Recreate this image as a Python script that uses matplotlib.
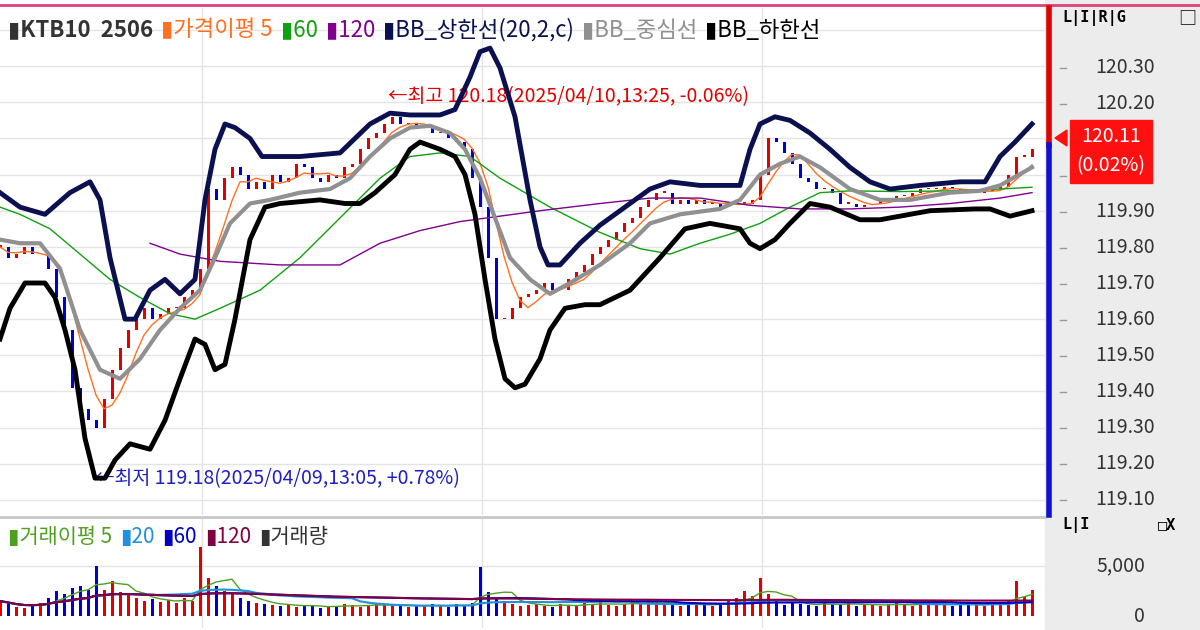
import matplotlib.pyplot as plt
import matplotlib.patches as mpatches
import pandas as pd

plt.rcParams['font.family'] = ['Noto Sans CJK KR', 'DejaVu Sans']

# close prices, one every 8 slots
close_x = list(range(0, 1040, 8))
closes = [119.80, 119.77, 119.78, 119.80, 119.78, 119.78, 119.74, 119.66, 119.57, 119.41,
          119.35, 119.32, 119.30, 119.38, 119.46, 119.52, 119.57, 119.60, 119.63, 119.60,
          119.615, 119.63, 119.63, 119.66, 119.68, 119.74, 119.96, 119.93, 119.99, 120.02,
          120.00, 119.96, 119.98, 119.96, 120.00, 119.98, 119.99, 120.03, 120.02, 119.99,
          119.98, 120.00, 119.99, 120.02, 120.03, 120.07, 120.10, 120.115, 120.14, 120.16,
          120.14, 120.14, 120.13, 120.13, 120.115, 120.115, 120.10, 120.09, 120.07, 119.99,
          119.91, 119.77, 119.60, 119.60, 119.63, 119.66, 119.67, 119.68, 119.70, 119.68,
          119.68, 119.71, 119.73, 119.75, 119.78, 119.80, 119.82, 119.84, 119.865, 119.88,
          119.91, 119.93, 119.95, 119.95, 119.92, 119.93, 119.92, 119.93, 119.92, 119.92,
          119.91, 119.92, 119.92, 119.92, 119.93, 120.00, 120.10, 120.09, 120.06, 120.03,
          119.99, 119.98, 119.96, 119.96, 119.95, 119.92, 119.92, 119.91, 119.915, 119.92,
          119.93, 119.935, 119.94, 119.94, 119.95, 119.96, 119.96, 119.96, 119.965, 119.96,
          119.955, 119.95, 119.95, 119.955, 119.96, 119.965, 120.00, 120.05, 120.05, 120.07]

volumes = [1500, 1200, 900, 800, 1000, 1300, 1800, 2500, 2200, 2800,
           3000, 2600, 5000, 2600, 3500, 2400, 2200, 1800, 1500, 1700,
           1400, 1600, 1300, 1800, 1500, 6900, 3800, 3000, 2500, 2200,
           1800, 1500, 1300, 1200, 1100, 1000, 1200, 900, 1000, 1100,
           800, 900, 1000, 1200, 1100, 900, 1000, 1300, 1200, 1100,
           1000, 900, 1000, 1100, 1200, 1000, 900, 1200, 1000, 1300,
           4900, 2400, 1800, 1500, 1200, 1000, 1100, 1200, 1000, 900,
           1200, 1100, 1000, 1300, 1200, 1400, 1100, 1000, 1200, 1500,
           1300, 1600, 1400, 1200, 1100, 1000, 1300, 1200, 1100, 1000,
           1200, 1500, 1800, 2500, 2000, 3800, 2200, 1500, 1100, 1300,
           1200, 1100, 1000, 1400, 1200, 1100, 1300, 1000, 1200, 1100,
           1000, 1200, 1300, 1100, 1000, 1200, 1400, 1300, 1100, 1000,
           1200, 1300, 1100, 1000, 1400, 1300, 1500, 3500, 1900, 2600]

bb_up_x = [0, 20, 45, 70, 90, 100, 110, 125, 135, 150, 165, 180, 195, 205, 215, 225, 235, 250, 262, 275,
           300, 340, 355, 370, 390, 410, 440, 455, 470, 480, 490, 500, 515, 530, 540, 548, 560, 580, 600, 630,
           650, 670, 700, 740, 750, 760, 775, 790, 810, 830, 850, 870, 890, 920, 960, 985, 1000, 1015, 1032]
bb_up = [119.95, 119.91, 119.89, 119.95, 119.98, 119.93, 119.77, 119.60, 119.60, 119.68, 119.71, 119.67, 119.71, 119.93, 120.07, 120.14, 120.13, 120.10, 120.05, 120.05,
         120.05, 120.06, 120.10, 120.14, 120.17, 120.165, 120.165, 120.18, 120.27, 120.34, 120.35, 120.295, 120.16, 119.93, 119.80, 119.75, 119.75, 119.81, 119.86, 119.92,
         119.96, 119.98, 119.97, 119.97, 120.07, 120.14, 120.16, 120.15, 120.115, 120.07, 120.02, 119.98, 119.96, 119.97, 119.98, 119.98, 120.05, 120.09, 120.14]

bb_lo_x = [0, 10, 25, 45, 55, 65, 75, 85, 95, 105, 115, 130, 150, 165, 180, 195, 205, 215, 225, 235, 250, 265, 280,
           320, 345, 360, 375, 395, 410, 420, 440, 455, 465, 475, 485, 495, 505, 515, 525, 540, 550, 565, 585, 600,
           630, 660, 685, 710, 740, 750, 760, 775, 790, 810, 830, 860, 880, 900, 930, 975, 990, 1010, 1032]
bb_lo = [119.545, 119.63, 119.70, 119.70, 119.66, 119.57, 119.46, 119.27, 119.16, 119.16, 119.21, 119.255, 119.24, 119.32, 119.435, 119.545, 119.53, 119.46, 119.475, 119.60, 119.82, 119.91, 119.92,
         119.93, 119.92, 119.92, 119.95, 120.00, 120.07, 120.09, 120.07, 120.05, 120.00, 119.89, 119.71, 119.545, 119.435, 119.41, 119.42, 119.49, 119.57, 119.63, 119.64, 119.64,
         119.68, 119.77, 119.85, 119.865, 119.85, 119.81, 119.795, 119.82, 119.865, 119.92, 119.91, 119.875, 119.875, 119.885, 119.90, 119.905, 119.905, 119.885, 119.90]

bb_mid_x = [0, 20, 40, 60, 80, 100, 120, 140, 160, 180, 200, 215, 230, 250, 270, 300, 330, 350, 370, 390, 410, 430, 450, 465,
            480, 495, 510, 530, 550, 570, 600, 630, 650, 680, 720, 740, 760, 780, 800, 820, 850, 880, 910, 950, 980, 1000, 1032]
bb_mid = [119.82, 119.81, 119.81, 119.74, 119.57, 119.46, 119.435, 119.49, 119.57, 119.63, 119.68, 119.77, 119.865, 119.92, 119.93, 119.95, 119.96, 119.99, 120.05, 120.10, 120.13, 120.135, 120.115, 120.07,
          119.99, 119.88, 119.77, 119.71, 119.67, 119.70, 119.75, 119.81, 119.865, 119.89, 119.905, 119.93, 120.00, 120.03, 120.05, 120.02, 119.96, 119.93, 119.93, 119.95, 119.955, 119.97, 120.02]

ma60_x = [0, 20, 50, 80, 110, 140, 170, 195, 220, 260, 300, 340, 380, 410, 440, 470, 500, 550, 600, 640, 670, 700, 730, 760, 790, 820, 850, 900, 950, 1000, 1032]
ma60 = [119.91, 119.89, 119.85, 119.78, 119.71, 119.66, 119.615, 119.60, 119.63, 119.68, 119.77, 119.88, 119.99, 120.05, 120.06, 120.05, 119.99, 119.91, 119.84, 119.795, 119.78, 119.81, 119.835, 119.865, 119.91, 119.95, 119.955, 119.953, 119.955, 119.96, 119.965]

ma120_x = [150, 180, 220, 280, 340, 380, 420, 460, 500, 540, 600, 650, 700, 750, 800, 850, 900, 950, 1000, 1032]
ma120 = [119.81, 119.78, 119.76, 119.75, 119.75, 119.81, 119.845, 119.87, 119.885, 119.90, 119.92, 119.935, 119.935, 119.915, 119.905, 119.905, 119.91, 119.92, 119.935, 119.95]

y_ticks = [120.30, 120.20, 120.00, 119.90, 119.80, 119.70, 119.60, 119.50, 119.40, 119.30, 119.20, 119.10]

fig = plt.figure(figsize=(12, 6.3), dpi=100)
fig.patch.set_facecolor('white')
W, H = 1200, 630

ax = fig.add_axes([0, 1 - 515 / H, 1045 / W, 507 / H])
vax = fig.add_axes([0, 2 / H, 1045 / W, 110 / H])

# right side gray panel
fig.patches.append(mpatches.Rectangle((1045 / W, 0), 155 / W, 1, transform=fig.transFigure, color='#ececec', zorder=0))
fig.add_artist(plt.Line2D([0, 1], [1 - 5 / H] * 2, color='#e0407a', lw=2))
fig.add_artist(plt.Line2D([0, 1045 / W], [1 - 517 / H] * 2, color='#c8c8c8', lw=2))
fig.add_artist(plt.Line2D([1049 / W] * 2, [1 - 145 / H, 1 - 8 / H], color='#e00000', lw=4))
fig.add_artist(plt.Line2D([1049 / W] * 2, [1 - 515 / H, 1 - 145 / H], color='#1010d0', lw=4))

ymin, ymax = 119.058, 120.461
for a in (ax, vax):
    for s in a.spines.values():
        s.set_visible(False)
    a.set_xticks([])
    a.set_yticks([])
    a.set_xlim(0, 1045)

ax.set_ylim(ymin, ymax)
for t in y_ticks + [120.10, 120.40]:
    ax.axhline(t, color='#e4e4e4', lw=1, zorder=0)
for gx in [202, 482, 762]:
    ax.axvline(gx, color='#e4e4e4', lw=1, zorder=0)
    vax.axvline(gx, color='#e4e4e4', lw=1, zorder=0)

# candles: previous close to close
prev = [closes[0]] + closes[:-1]
for x, o, c in zip(close_x, prev, closes):
    col = '#e00000' if c >= o else '#0000d0'
    lo, hi = min(o, c), max(o, c)
    ax.add_patch(mpatches.Rectangle((x - 1.5, lo), 3, max(hi - lo, 0.004), color=col, lw=0, zorder=2))

ma5 = pd.Series(closes).rolling(5, min_periods=1).mean()
ax.plot(close_x, ma5, color='#ff7020', lw=1, zorder=3)
ax.plot(ma60_x, ma60, color='#10a010', lw=1, zorder=3)
ax.plot(ma120_x, ma120, color='#800090', lw=1, zorder=3)
ax.plot(bb_mid_x, bb_mid, color='#909090', lw=3, zorder=4)
ax.plot(bb_lo_x, bb_lo, color='black', lw=3.5, zorder=4)
ax.plot(bb_up_x, bb_up, color='#0a1050', lw=3.5, zorder=5)

ax.text(388, 120.215, '←최고 120.18(2025/04/10,13:25, -0.06%)', color='#e00000', fontsize=14, va='center')
ax.text(95, 119.16, '←최저 119.18(2025/04/09,13:05, +0.78%)', color='#2020c0', fontsize=14, va='center')

# price axis labels (120.00 sits behind the current-price box, as in the source)
for t in y_ticks:
    fy = 1 - (10 + (ymax - t) / (ymax - ymin) * 505) / H
    if abs(t - 120.00) > 1e-6:
        fig.text(1155 / W, fy, f'{t:.2f}', ha='right', va='center', fontsize=14, color='#333333', zorder=1)
    fig.add_artist(plt.Line2D([1060 / W, 1066 / W], [fy, fy], color='#999999', lw=1))
fig.patches.append(mpatches.Rectangle((1070 / W, 1 - 183 / H), 82 / W, 63 / H, transform=fig.transFigure, color='#ff1010', zorder=5))
fig.patches.append(mpatches.Polygon([[1055 / W, 1 - 138 / H], [1067 / W, 1 - 130 / H], [1067 / W, 1 - 146 / H]], transform=fig.transFigure, color='#ff1010'))
fig.text(1111 / W, 1 - 137 / H, '120.11', ha='center', va='center', fontsize=14, color='white', zorder=6)
fig.text(1111 / W, 1 - 166 / H, '(0.02%)', ha='center', va='center', fontsize=14, color='white', zorder=6)
fig.text(1062 / W, 1 - 18 / H, 'L|I|R|G', fontsize=11, va='center', family='DejaVu Sans Mono', fontweight='bold')
fig.text(1062 / W, 1 - 525 / H, 'L|I', fontsize=11, va='center', family='DejaVu Sans Mono', fontweight='bold')
fig.text(1158 / W, 1 - 525 / H, '□X', fontsize=11, va='center', family='DejaVu Sans Mono', fontweight='bold')
fig.text(1178 / W, 1 - 18 / H, '□', fontsize=13, va='center')

# legends
x0 = 8
for label, col, fw in [('KTB10  2506', '#333333', 'bold'), ('가격이평 5', '#ff7020', 'normal'), ('60', '#10a010', 'normal'),
                       ('120', '#800090', 'normal'), ('BB_상한선(20,2,c)', '#0a1050', 'normal'),
                       ('BB_중심선', '#909090', 'normal'), ('BB_하한선', '#000000', 'normal')]:
    t = fig.text(x0 / W, 1 - 30 / H, '▮' + label, color=col, fontsize=16, fontweight=fw, va='center')
    fig.canvas.draw()
    x0 += t.get_window_extent().width + 8

x0 = 8
for label, col in [('거래이평 5', '#50a020'), ('20', '#2090e0'), ('60', '#0000c0'), ('120', '#800040'), ('거래량', '#333333')]:
    t = fig.text(x0 / W, 1 - 537 / H, '▮' + label, color=col, fontsize=15, va='center')
    fig.canvas.draw()
    x0 += t.get_window_extent().width + 8

# volume panel
vax.set_ylim(-1200, 9800)
vs = pd.Series(volumes)
for x, v, o, c in zip(close_x, volumes, prev, closes):
    vax.bar(x, v, width=3, color='#e00000' if c >= o else '#0000d0', zorder=2)
vax.plot(close_x, vs.rolling(5, min_periods=1).mean(), color='#50a020', lw=1, zorder=3)
vax.plot(close_x, vs.rolling(20, min_periods=1).mean(), color='#2090e0', lw=1.5, zorder=3)
vax.plot(close_x, vs.rolling(60, min_periods=1).mean(), color='#0000c0', lw=1.5, zorder=3)
vax.plot(close_x, vs.rolling(120, min_periods=1).mean(), color='#800040', lw=1.5, zorder=3)
vax.axhline(5000, color='#e4e4e4', lw=1, zorder=0)
for t in [5000, 0]:
    fy = vax.transData.transform((0, t))[1] / (H)
    fig.text(1145 / W, fy, f'{t:,}', ha='right', va='center', fontsize=14, color='#333333')

fig.savefig('out.png', dpi=100)
